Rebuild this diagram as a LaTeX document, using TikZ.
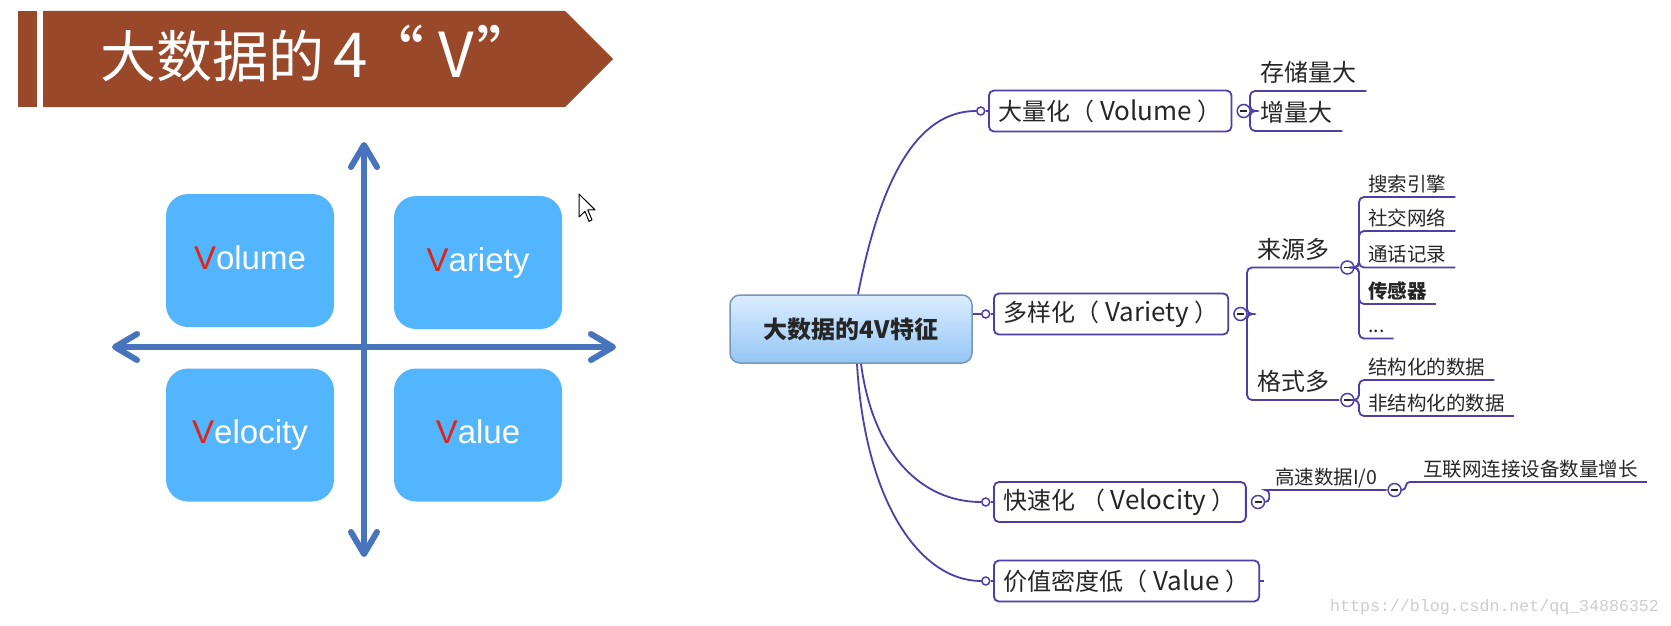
\documentclass[tikz,border=0pt]{standalone}
\usepackage{fontspec}
\usetikzlibrary{positioning,arrows.meta}
\newfontfamily\cjk{Noto Sans CJK SC}
\newfontfamily\quadfont{Liberation Sans}
\newfontfamily\urlfont{Liberation Mono}
\newcommand\topiclat[1]{{\fontsize{26}{28}\selectfont #1}}

\definecolor{banner}{RGB}{153,72,42}
\definecolor{qblue}{RGB}{84,181,255}
\definecolor{qaxis}{RGB}{72,116,190}
\definecolor{vred}{RGB}{225,35,20}
\definecolor{mmline}{RGB}{78,62,168}
\definecolor{mmtext}{RGB}{38,38,38}
\definecolor{roottop}{RGB}{220,237,255}
\definecolor{rootbot}{RGB}{148,198,245}
\definecolor{rootedge}{RGB}{120,150,185}
\definecolor{wmgray}{RGB}{205,205,205}

\tikzset{
  quad/.style={fill=qblue, rounded corners=22pt, minimum width=168pt, minimum height=133pt,
    text=white, font=\quadfont\fontsize{33}{36}\selectfont, text height=24pt, text depth=7pt, inner sep=0pt},
  qarrow/.style={draw=qaxis, line width=6pt, {Straight Barb[length=22pt,width=26pt,round]}-{Straight Barb[length=22pt,width=26pt,round]}},
  branch/.style={draw=mmline, line width=1.8pt},
  root/.style={draw=rootedge, line width=1.5pt, rounded corners=10pt, top color=roottop, bottom color=rootbot,
    minimum width=242pt, minimum height=68pt, text=mmtext, font=\cjk\bfseries\fontsize{24}{28}\selectfont},
  topic/.style={draw=mmline, line width=1.8pt, rounded corners=5pt, fill=white, text=mmtext, anchor=west,
    minimum height=41pt, inner xsep=10pt, font=\cjk\fontsize{24}{28}\selectfont},
  sub/.style={anchor=south west, inner xsep=10pt, inner ysep=0pt, text depth=9pt, text=mmtext,
    font=\cjk\fontsize{24}{28}\selectfont},
  leaf/.style={anchor=south west, inner xsep=9pt, inner ysep=0pt, text depth=5.5pt, text=mmtext,
    font=\cjk\fontsize{19.5}{23}\selectfont},
  knob/.style={circle, draw=mmline, line width=1.5pt, fill=white, minimum size=8pt, inner sep=0pt},
  fold/.style={circle, draw=mmline, line width=1.5pt, fill=white, minimum size=13pt, inner sep=0pt,
    path picture={\draw[mmtext, line width=1.5pt] ([xshift=-3.5pt]path picture bounding box.center)
      -- ([xshift=3.5pt]path picture bounding box.center);}}
}

\begin{document}
\begin{tikzpicture}[x=1pt, y=-1pt]
\useasboundingbox (0,0) rectangle (1671,626);
\fill[white] (0,0) rectangle (1671,626);

% title banner
\fill[banner] (18,11) rectangle (37,107);
\fill[banner] (43,11) -- (565,11) -- (613,59) -- (565,107) -- (43,107) -- cycle;
\node[anchor=base west, text=white, inner sep=0pt, font=\cjk\fontsize{56}{62}\selectfont] (title) at (100,77.5)
  {大数据的\hspace{9pt}{\fontsize{62}{68}\selectfont 4\hspace{-5pt}“\hspace{14pt}V\hspace{2pt}”}};

% the four V
\node[quad] (vol-q) at (250,260.5) {\textcolor{vred}{V}olume};
\node[quad] (var-q) at (478,262.5) {\textcolor{vred}{V}ariety};
\node[quad] (vel-q) at (250,435) {\textcolor{vred}{V}elocity};
\node[quad] (val-q) at (478,435) {\textcolor{vred}{V}alue};
\coordinate (ax-n) at (364,142);
\coordinate (ax-s) at (364,557);
\coordinate (ax-w) at (112,347);
\coordinate (ax-e) at (616,347);
\draw[qarrow] (ax-n) -- (ax-s);
\draw[qarrow] (ax-w) -- (ax-e);

% mouse pointer
\draw[fill=white, line width=1pt, line join=round] (579,194) -- (579,217) -- (585,211.4) -- (589,221.4)
  -- (592,219.9) -- (587.7,209.9) -- (595,209.9) -- cycle;

% mind map
\node[root] (root) at (851,329) {大数据的4V特征};
\node[topic, minimum width=238pt] (vol) at (988,111) {大量化（ \topiclat{Volume} ）\hspace{-12pt}};
\node[topic, minimum width=230pt] (var) at (993,314) {多样化（ \topiclat{Variety} ）\hspace{-12pt}};
\node[topic, minimum width=249pt, minimum height=40pt] (vel) at (993,502) {快速化 （ \topiclat{Velocity} ）\hspace{-12pt}};
\node[topic, minimum width=262pt] (val) at (993,581) {价值密度低（ \topiclat{Value} ）\hspace{-12pt}};

\foreach \t in {vol,var,vel,val}{
  \node[knob, left=2.5pt of \t] (\t-k) {};
  \draw[branch] (\t-k) -- (\t);
}
\node[fold, right=4pt of vol] (vol-f) {};
\node[fold, right=4pt of var] (var-f) {};
\node[fold, right=4pt of vel] (vel-f) {};

\draw[branch] ([xshift=7pt]root.north) .. controls +(22,-113) and +(-60,0) .. (vol-k.west);
\draw[branch] (root.east |- var-k) -- (var-k.west);
\draw[branch] ([xshift=10pt]root.south) .. controls +(12,90) and +(-60,0) .. (vel-k.west);
\draw[branch] ([xshift=6pt]root.south) .. controls +(8,140) and +(-60,0) .. (val-k.west);
\draw[branch] (val.east) -- ++(4,0);

% volume
\node[sub] (store) at (1250,91) {存储量大};
\node[sub] (grow) at (1250,131) {增量大};
\foreach \n in {store,grow}
  \draw[branch, rounded corners=5pt] (vol-f.east) -- (vol-f.east -| \n.south west) -- (\n.south west) -- (\n.south east);

% variety
\node[sub] (src) at (1247,267.5) {来源多};
\node[sub] (fmt) at (1247,400) {格式多};
\foreach \n in {src,fmt}{
  \draw[branch, rounded corners=5pt] (var-f.east) -- (var-f.east -| \n.south west) -- (\n.south west) -- (\n.south east);
  \node[fold] (\n-f) at ([xshift=8pt]\n.south east) {};
}
\node[leaf] (s1) at (1359,197) {搜索引擎};
\node[leaf] (s2) at (1359,231) {社交网络};
\node[leaf] (s3) at (1359,267.5) {通话记录};
\node[leaf, font=\cjk\bfseries\fontsize{19.5}{23}\selectfont] (s4) at (1359,304) {传感器};
\node[leaf] (s5) at (1359,338.5) {...};
\foreach \n in {s1,s2,s3,s4,s5}
  \draw[branch, rounded corners=5pt] (src-f.east) -- (src-f.east -| \n.south west) -- (\n.south west) -- (\n.south east);
\node[leaf] (f1) at (1359,380) {结构化的数据};
\node[leaf] (f2) at (1359,416) {非结构化的数据};
\foreach \n in {f1,f2}
  \draw[branch, rounded corners=5pt] (fmt-f.east) -- (fmt-f.east -| \n.south west) -- (\n.south west) -- (\n.south east);

% velocity
\node[leaf] (io) at (1266,490) {高速数据I/0};
\node[fold] (io-f) at ([xshift=8pt]io.south east) {};
\node[leaf] (iot) at (1414,482) {互联网连接设备数量增长};
\draw[branch, rounded corners=4pt] (vel-f.east) -- ++(4,0) |- (io.south west) -- (io.south east);
\draw[branch, rounded corners=4pt] (io-f.east) -- ++(4,0) |- (iot.south west) -- (iot.south east);

% watermark
\node[anchor=base west, inner sep=0pt, text=wmgray, font=\urlfont\fontsize{16.6}{20}\selectfont] (wm) at (1330,611) {https://blog.csdn.net/qq\_34886352};
\end{tikzpicture}
\end{document}
